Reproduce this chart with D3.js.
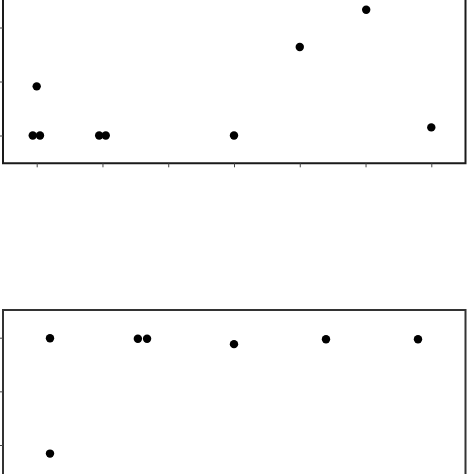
<!DOCTYPE html>
<html>
<head>
<meta charset="utf-8">
<script src="https://cdn.jsdelivr.net/npm/d3@7"></script>
<style>
  html, body { margin: 0; padding: 0; background: #fff; }
  svg { display: block; }
</style>
</head>
<body>
<svg id="chart" width="474" height="474"></svg>
<script>
// ---- Data ----
// Top panel: x category positions (with small jitter for overlapping points) and values
const topCategories = [0, 1, 2, 3, 4, 5, 6];
const topX = [-0.06, 0.05, 0, 0.95, 1.05, 3, 4, 5.01, 6];
const topY = [0, 0, 0.91, 0, 0, 0, 1.64, 2.33, 0.15];
const topYTicks = [0, 1, 2];

// Bottom panel
const bottomCategories = [0, 1, 2, 3, 4];
const bottomX = [0, 0, 0.955, 1.055, 2, 3, 4];
const bottomY = [1.99, -0.16, 1.98, 1.98, 1.88, 1.97, 1.97];
const bottomYTicks = [0, 1, 2];

// ---- Drawing ----
const svg = d3.select("#chart");
const W = 474, H = 474;
const left = 3, right = 465.5;

// Top panel scales
const xTop = d3.scaleLinear().domain([0, 6]).range([36.7, 431.3]);
const yTop = d3.scaleLinear().domain([0, 2]).range([135.5, 27.5]);

// Bottom panel scales
const xBot = d3.scaleLinear().domain([0, 4]).range([50, 418]);
const yBot = d3.scaleLinear().domain([0, 2]).range([445, 337.7]);

// Top panel frame (top edge is cropped off)
const gTop = svg.append("g");
gTop.append("path")
  .attr("d", `M${left},0 L${left},163.3 L${right},163.3 L${right},0`)
  .attr("fill", "none").attr("stroke", "#1a1a1a").attr("stroke-width", 2);

// Top panel axes
const yAxisTop = d3.axisLeft(yTop).tickValues(topYTicks).tickSize(3).tickFormat("");
gTop.append("g").attr("transform", `translate(${left},0)`).call(yAxisTop)
  .call(g => g.select(".domain").remove())
  .call(g => g.selectAll("line").attr("stroke", "#444").attr("stroke-width", 1));

const xAxisTop = d3.axisBottom(xTop).tickValues(topCategories).tickSize(4).tickFormat("");
gTop.append("g").attr("transform", `translate(0,163.3)`).call(xAxisTop)
  .call(g => g.select(".domain").remove())
  .call(g => g.selectAll("line").attr("stroke", "#444").attr("stroke-width", 1));

gTop.append("g").selectAll("circle")
  .data(topX.map((x, i) => ({ x, y: topY[i] })))
  .join("circle")
  .attr("cx", d => xTop(d.x))
  .attr("cy", d => yTop(d.y))
  .attr("r", 4.2)
  .attr("fill", "#000");

// Bottom panel frame (bottom edge cropped off)
const gBot = svg.append("g");
gBot.append("path")
  .attr("d", `M${left},${H} L${left},310 L${right},310 L${right},${H}`)
  .attr("fill", "none").attr("stroke", "#333").attr("stroke-width", 2);

const yAxisBot = d3.axisLeft(yBot).tickValues(bottomYTicks).tickSize(3).tickFormat("");
gBot.append("g").attr("transform", `translate(${left},0)`).call(yAxisBot)
  .call(g => g.select(".domain").remove())
  .call(g => g.selectAll("line").attr("stroke", "#444").attr("stroke-width", 1));

gBot.append("g").selectAll("circle")
  .data(bottomX.map((x, i) => ({ x, y: bottomY[i] })))
  .join("circle")
  .attr("cx", d => xBot(d.x))
  .attr("cy", d => yBot(d.y))
  .attr("r", 4.2)
  .attr("fill", "#000");
</script>
</body>
</html>
